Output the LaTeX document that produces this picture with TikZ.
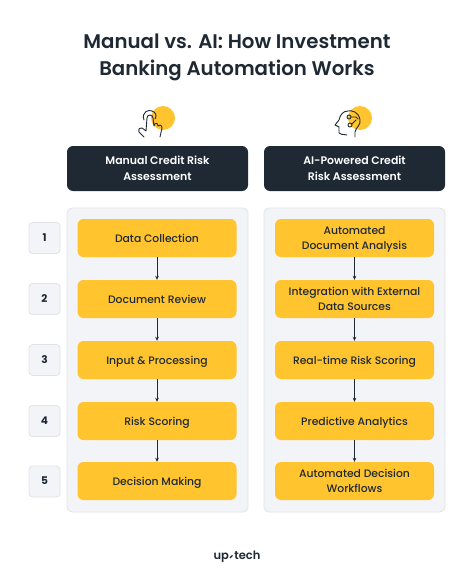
\documentclass[tikz,border=0pt]{standalone}
\usepackage{fontspec}
\usepackage{array}
\setmainfont{Poppins}
\newfontfamily\medfont{Poppins Medium}
\newfontfamily\semifont{Poppins SemiBold}
\definecolor{ink}{HTML}{1F2933}
\definecolor{amber}{HTML}{FFC42E}
\definecolor{panelbg}{HTML}{F3F4F8}
\definecolor{panelln}{HTML}{E2E3E8}
\usetikzlibrary{arrows.meta}
\newcommand{\lowtxt}[2][1.3pt]{\raisebox{-#1}[\height][\depth]{\begin{tabular}{@{}c@{}}#2\end{tabular}}}
\tikzset{
  x=1pt,y=-1pt,
  panel/.style={draw=panelln,line width=0.8pt,fill=panelbg,rounded corners=5pt,minimum width=181pt,minimum height=304pt,inner sep=0pt},
  hdr/.style={fill=ink,rounded corners=6pt,minimum width=181pt,minimum height=45pt,inner sep=0pt,text=white,align=center,font=\fontsize{10.95}{15.5}\semifont},
  stepbox/.style={fill=amber,rounded corners=6pt,minimum width=159pt,minimum height=38pt,inner sep=0pt,text=ink,align=center,font=\fontsize{10.8}{15}\medfont},
  numbox/.style={draw=panelln,line width=0.8pt,fill=panelbg,rounded corners=3.5pt,minimum size=31pt,inner sep=0pt,text=ink,font=\fontsize{10.6}{13}\selectfont\bfseries},
  conn/.style={draw=ink,line width=0.8pt,-{Stealth[length=4pt,width=3.6pt]}},
  iconln/.style={draw=ink,line width=0.9pt,line cap=round,line join=round},
}
\begin{document}
\begin{tikzpicture}
\useasboundingbox (0,0) rectangle (474,575);
\fill[white] (0,0) rectangle (474,575);
\node[text=ink,align=center,font=\fontsize{19.75}{27}\semifont] (title) at (237,57) {Manual vs. AI: How Investment\\Banking Automation Works};
% icons
\fill[amber] (163,118) circle (12);
\fill[amber] (360,118) circle (12);
\draw[iconln] (144,137) -- (139,132) .. controls (138,129) and (140,127) .. (142,128) -- (146,131) -- (147,118) .. controls (147,114) and (153,114) .. (153,118) -- (154,126) .. controls (154,123) and (158,122) .. (158,126) .. controls (159,124) and (162,125) .. (162,128) -- (160,137);
\draw[iconln] (144,120) .. controls (141,112) and (149,109) .. (152,111) .. controls (156,112) and (157,116) .. (155,119);
\draw[iconln] (355,137) -- (355,132) .. controls (356,127) and (361,125) .. (360,120) .. controls (359,112) and (352,110) .. (348,111) .. controls (343,111) and (340,115) .. (339,120) -- (335,125) -- (339,127) -- (339,133) .. controls (340,135) and (343,134) .. (347,135);
\draw[iconln] (349,117) circle (2);
\draw[iconln] (350,125) circle (2);
\draw[iconln] (351,117) -- (356,117) -- (358,119);
\draw[iconln] (352,124) -- (356,120);
% headers
\node[hdr] (hl) at (157.5,168.5) {\lowtxt[0.8pt]{Manual Credit Risk\\Assessment}};
\node[hdr] (hr) at (354.5,168.5) {\lowtxt[0.8pt]{AI-Powered Credit\\Risk Assessment}};
% panels
\node[panel] (pl) at (157.5,360) {};
\node[panel] (pr) at (354.5,360) {};
% numbers
\node[numbox] (n1) at (44.5,238) {\lowtxt[0.8pt]{1}};
\node[numbox] (n2) at (44.5,299) {\lowtxt[0.8pt]{2}};
\node[numbox] (n3) at (44.5,360) {\lowtxt[0.8pt]{3}};
\node[numbox] (n4) at (44.5,421) {\lowtxt[0.8pt]{4}};
\node[numbox] (n5) at (44.5,481.5) {\lowtxt[0.8pt]{5}};
% left steps
\node[stepbox] (l1) at (157,238) {\lowtxt{Data Collection}};
\node[stepbox] (l2) at (157,299) {\lowtxt{Document Review}};
\node[stepbox] (l3) at (157,360) {\lowtxt{Input \& Processing}};
\node[stepbox] (l4) at (157,421) {\lowtxt{Risk Scoring}};
\node[stepbox] (l5) at (157,481) {\lowtxt{Decision Making}};
% right steps
\node[stepbox] (r1) at (354.5,238) {\lowtxt{Automated\\Document Analysis}};
\node[stepbox] (r2) at (354.5,299) {\lowtxt{Integration with External\\Data Sources}};
\node[stepbox] (r3) at (354.5,360) {\lowtxt{Real-time Risk Scoring}};
\node[stepbox] (r4) at (354.5,421) {\lowtxt{Predictive Analytics}};
\node[stepbox] (r5) at (354.5,481) {\lowtxt{Automated Decision\\Workflows}};
\foreach \a/\b in {l1/l2,l2/l3,l3/l4,l4/l5,r1/r2,r2/r3,r3/r4,r4/r5}
  \draw[conn] (\a) -- (\b);
% logo
\node[text=ink,font=\fontsize{11.5}{12}\semifont,inner sep=0pt] (logo) at (237,556.5) {up\kern0.6pt\raisebox{-1.4pt}{\fontsize{8}{8}\selectfont\rotatebox{45}{\textbf{-}}}\kern-0.8pt tech};
\end{tikzpicture}
\end{document}
